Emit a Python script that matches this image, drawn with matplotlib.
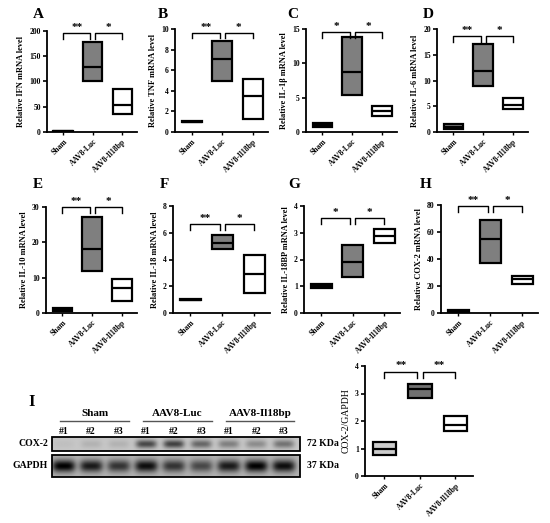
import numpy as np
import matplotlib
matplotlib.use('Agg')
import matplotlib.pyplot as plt

plt.rcParams['font.family'] = ['Liberation Serif', 'DejaVu Serif']
plt.rcParams['font.weight'] = 'bold'

groups = ['Sham', 'AAV8-Luc', 'AAV8-Il18bp']

# box data per panel: low, median, high
ifn_low = [0.3, 100, 35]
ifn_mid = [1.5, 128, 54]
ifn_high = [2.7, 178, 85]

tnf_low = [0.97, 5.0, 1.3]
tnf_mid = [1.0, 7.1, 3.45]
tnf_high = [1.03, 8.8, 5.1]

il1b_low = [0.75, 5.4, 2.4]
il1b_mid = [1.0, 8.8, 3.1]
il1b_high = [1.3, 13.8, 3.8]

il6_low = [0.6, 9.0, 4.4]
il6_mid = [1.0, 11.9, 5.3]
il6_high = [1.5, 17.0, 6.6]

il10_low = [0.6, 12.0, 3.5]
il10_mid = [1.0, 18.0, 7.1]
il10_high = [1.3, 27.3, 9.7]

il18_low = [0.97, 4.75, 1.5]
il18_mid = [1.0, 5.25, 2.9]
il18_high = [1.03, 5.85, 4.3]

il18bp_low = [0.95, 1.35, 2.6]
il18bp_mid = [1.0, 1.9, 2.88]
il18bp_high = [1.07, 2.55, 3.15]

cox2_low = [0.5, 37, 21.5]
cox2_mid = [1.0, 54.5, 25]
cox2_high = [2.0, 69, 27.5]

ratio_low = [0.75, 2.85, 1.62]
ratio_mid = [1.0, 3.15, 1.85]
ratio_high = [1.25, 3.35, 2.18]

# western blot band darkness, lanes #1-#3 for each group
cox2_band = [0.25, 0.3, 0.3, 0.72, 0.75, 0.6, 0.5, 0.45, 0.55]
gapdh_band = [1.0, 0.9, 0.8, 0.95, 0.8, 0.72, 0.9, 1.0, 0.95]

panels = [
    ('A', 'Relative IFN mRNA level', ifn_low, ifn_mid, ifn_high, 200, [0, 50, 100, 150, 200], ['**', '*']),
    ('B', 'Relative TNF mRNA level', tnf_low, tnf_mid, tnf_high, 10, [0, 2, 4, 6, 8, 10], ['**', '*']),
    ('C', 'Relative IL-1\u03b2 mRNA level', il1b_low, il1b_mid, il1b_high, 15, [0, 5, 10, 15], ['*', '*']),
    ('D', 'Relative IL-6 mRNA level', il6_low, il6_mid, il6_high, 20, [0, 5, 10, 15, 20], ['**', '*']),
    ('E', 'Relative IL-10 mRNA level', il10_low, il10_mid, il10_high, 30, [0, 10, 20, 30], ['**', '*']),
    ('F', 'Relative IL-18 mRNA level', il18_low, il18_mid, il18_high, 8, [0, 2, 4, 6, 8], ['**', '*']),
    ('G', 'Relative IL-18BP mRNA level', il18bp_low, il18bp_mid, il18bp_high, 4, [0, 1, 2, 3, 4], ['*', '*']),
    ('H', 'Relative COX-2 mRNA level', cox2_low, cox2_mid, cox2_high, 80, [0, 20, 40, 60, 80], ['**', '*']),
]

# pixel boxes (left, top, right, bottom) of each axes, plus bracket height fractions
W, H = 550, 523
boxes = [(47, 31, 137, 132), (175, 29, 268, 132), (306, 29, 397, 132), (437, 29, 528, 132),
         (46, 207, 137, 313), (173, 206, 270, 313), (304, 206, 400, 313), (441, 205, 538, 313)]
bracket_top = [0.98, 0.965, 0.97, 0.93, 1.0, 0.835, 0.885, 0.99]
letter_pos = [(33, 14), (158, 14), (287, 14), (423, 14), (33, 185), (160, 185), (288, 185), (420, 185)]

fig = plt.figure(figsize=(5.5, 5.23), dpi=100)

fills = ['#7f7f7f', '#7f7f7f', 'white']


def draw_boxes(ax, low, mid, high, fill, ymax, yticks, stars, btop, ylabel, ylab_weight='bold', ylab_size=6):
    x = np.arange(len(groups))
    low = np.array(low)
    high = np.array(high)
    ax.bar(x, high - low, bottom=low, width=0.66, color=fill, edgecolor='black', linewidth=1.6)
    ax.hlines(mid, x - 0.33, x + 0.33, color='black', linewidth=1.6)
    ax.set_xlim(-0.55, 2.5)
    ax.set_ylim(0, ymax)
    ax.set_yticks(yticks)
    ax.set_xticks(x)
    ax.set_xticklabels(groups, rotation=45, ha='right', rotation_mode='anchor', fontsize=5.5, fontweight='bold')
    ax.tick_params(axis='y', labelsize=5.5, length=3, width=1.2, pad=1.5)
    ax.tick_params(axis='x', length=2, width=1.0, pad=2)
    for s in ['top', 'right']:
        ax.spines[s].set_visible(False)
    for s in ['left', 'bottom']:
        ax.spines[s].set_linewidth(1.3)
    ax.set_ylabel(ylabel, fontsize=ylab_size, fontweight=ylab_weight, labelpad=3)
    # significance brackets
    top = btop * ymax
    drop = 0.055 * ymax
    for (a, b), st in zip([(0, 0.92), (1.08, 2)], stars):
        ax.plot([a, a, b, b], [top - drop, top, top, top - drop], color='black', lw=1.0, clip_on=False)
        ax.text((a + b) / 2, top + 0.01 * ymax, st, ha='center', va='bottom', fontsize=8, fontweight='bold')


for i, (letter, ylabel, low, mid, high, ymax, yticks, stars) in enumerate(panels):
    l, t, r, b = boxes[i]
    ax = fig.add_axes([l / W, 1 - b / H, (r - l) / W, (b - t) / H])
    draw_boxes(ax, low, mid, high, fills, ymax, yticks, stars, bracket_top[i], ylabel)
    lx, ly = letter_pos[i]
    fig.text(lx / W, 1 - ly / H, letter, fontsize=11, fontweight='bold', ha='left', va='center')

# panel I quantification
ax = fig.add_axes([365 / W, 1 - 476 / H, 108 / W, 110 / H])
draw_boxes(ax, ratio_low, ratio_mid, ratio_high, ['#cccccc', '#707070', 'white'], 4, [0, 1, 2, 3, 4],
           ['**', '**'], 0.95, 'COX-2/GAPDH', ylab_weight='normal', ylab_size=7)

# western blot
bx = fig.add_axes([52 / W, 1 - 477 / H, 248 / W, 40 / H])
bx.set_xlim(0, 9)
bx.set_ylim(0, 40)
bx.axis('off')
lane_x = np.arange(9) + 0.42

xs = np.linspace(0, 9, 400)


def strip(bands, bg, sx, sy):
    ys = np.linspace(0, 1, 60)
    X, Y = np.meshgrid(xs, ys)
    img = np.full(X.shape, bg)
    for cx, v in zip(lane_x, bands):
        img += (v - bg) * np.exp(-((X - cx) / sx) ** 4) * np.exp(-((Y - 0.5) / sy) ** 2)
    return np.clip(img, 0, 1)


bx.imshow(strip(cox2_band, 0.22, 0.38, 0.3), cmap='gray_r', vmin=0, vmax=1, extent=(0, 9, 26, 40),
          aspect='auto', interpolation='bilinear')
bx.imshow(strip(gapdh_band, 0.3, 0.42, 0.28), cmap='gray_r', vmin=0, vmax=1, extent=(0, 9, 0, 22),
          aspect='auto', interpolation='bilinear')
for y0, y1 in [(26, 40), (0, 22)]:
    bx.add_patch(plt.Rectangle((0, y0), 9, y1 - y0, fill=False, edgecolor='black', lw=1.3, clip_on=False))

bx.text(-0.15, 33, 'COX-2', ha='right', va='center', fontsize=7, fontweight='bold')
bx.text(-0.15, 11, 'GAPDH', ha='right', va='center', fontsize=7, fontweight='bold')
bx.text(9.25, 33, '72 KDa', ha='left', va='center', fontsize=7, fontweight='bold')
bx.text(9.25, 11, '37 KDa', ha='left', va='center', fontsize=7, fontweight='bold')
for k, cx in enumerate(lane_x):
    bx.text(cx, 46, '#%d' % (k % 3 + 1), ha='center', va='center', fontsize=7, fontweight='bold', clip_on=False)
for g, name in enumerate(groups):
    x0 = lane_x[3 * g] - 0.12
    x1 = lane_x[3 * g + 2] + 0.38
    bx.plot([x0, x1], [56, 56], color='#555555', lw=1.0, clip_on=False)
    bx.text((x0 + x1) / 2, 64, name, ha='center', va='center', fontsize=8, fontweight='bold', clip_on=False)

fig.text(28 / W, 1 - 402 / H, 'I', fontsize=12, fontweight='bold', ha='left', va='center')

fig.savefig('out.png', dpi=100)
